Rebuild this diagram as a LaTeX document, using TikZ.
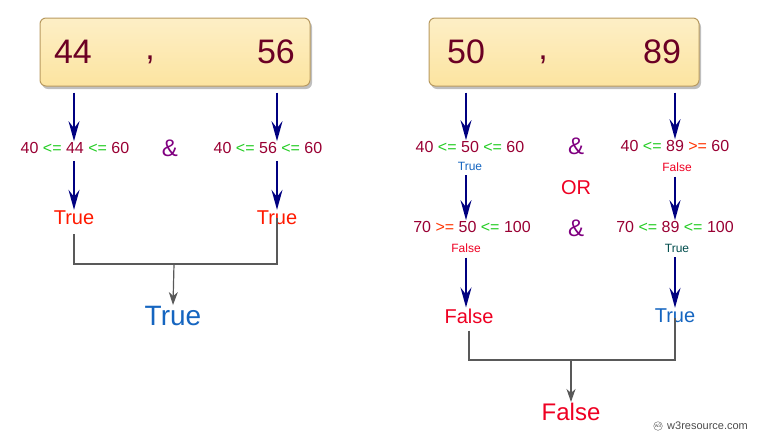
\documentclass[tikz,border=0pt]{standalone}
\usepackage{fontspec}
\setmainfont{Liberation Sans}
\usetikzlibrary{arrows.meta,shadows}
\definecolor{num}{HTML}{990033}
\definecolor{le}{HTML}{22CC22}
\definecolor{ge}{HTML}{FF3300}
\definecolor{navy}{HTML}{000080}
\definecolor{boxfill}{HTML}{FCE4A0}
\definecolor{boxline}{HTML}{B89A60}
\definecolor{tblue}{HTML}{1565C0}
\definecolor{fred}{HTML}{EE0022}
\newcommand{\LE}{\textcolor{le}{<=}}
\newcommand{\GE}{\textcolor{ge}{>=}}
\tikzset{
  arr/.style={navy, line width=1.8pt, arrows={-Stealth[length=20pt, width=11pt, inset=7pt]}},
  brk arr/.style={brk, arrows={-Stealth[length=13pt, width=9pt, inset=4pt]}}
}
\begin{document}
\begin{tikzpicture}[x=1pt,y=-1pt]
  \tikzstyle{pair box}=[draw=boxline, line width=1pt, rounded corners=6pt, top color=boxfill!60, bottom color=boxfill, minimum width=270pt, minimum height=68pt, drop shadow={opacity=0.5, shadow xshift=2pt, shadow yshift=-3pt}]
  \tikzstyle{big num}=[text=num!70!black, font=\fontsize{34}{36}\selectfont]
  \tikzstyle{cond}=[text=num, font=\fontsize{16}{18}\selectfont, inner sep=1pt]
  \tikzstyle{sub}=[font=\fontsize{12}{14}\selectfont, inner sep=1pt]
  \tikzstyle{res}=[font=\fontsize{20}{22}\selectfont, inner sep=1pt]
  \tikzstyle{op}=[text=violet, font=\fontsize{24}{26}\selectfont]
  \tikzstyle{brk}=[black!65, line width=1.2pt]
  \useasboundingbox (0,0) rectangle (762,445);

  % left example
  \node[pair box] (boxL) at (175,52) {};
  \node[big num] (n44) at (73,52) {44};
  \node[big num] at (150,60) {,};
  \node[big num] (n56) at (276,52) {56};
  \node[cond] (c44) at (75,148) {40 \LE{} 44 \LE{} 60};
  \node[cond] (c56) at (268,148) {40 \LE{} 56 \LE{} 60};
  \node[op] (andL) at (170,148) {\&};
  \node[res, text=orange!20!red] (tL1) at (74,218) {True};
  \node[res, text=orange!20!red] (tL2) at (277,218) {True};
  \node[res, text=tblue, font=\fontsize{28}{30}\selectfont] (outL) at (173,316) {True};
  \coordinate (jL) at (174,264);

  \draw[arr] (boxL.south -| tL1) ++(0,6) -- (c44.north -| tL1);
  \draw[arr] (boxL.south -| tL2) ++(0,6) -- (c56.north -| tL2);
  \draw[arr] (c44.south -| tL1) ++(0,6) -- (tL1.north);
  \draw[arr] (c56.south -| tL2) ++(0,6) -- (tL2.north);
  \draw[brk] (tL1.south) ++(0,8) |- (jL) -| ([yshift=8pt]tL2.south);
  \draw[brk arr] (jL) -- (outL.north);

  % right example
  \node[pair box] (boxR) at (564,52) {};
  \node[big num] (n50) at (466,52) {50};
  \node[big num] at (543,60) {,};
  \node[big num] (n89) at (662,52) {89};
  \node[cond] (c50a) at (470,147) {40 \LE{} 50 \LE{} 60};
  \node[sub, text=tblue] (s50a) at (470,166) {True};
  \node[cond] (c89a) at (675,146) {40 \LE{} 89 \GE{} 60};
  \node[sub, text=fred] (s89a) at (677,167) {False};
  \node[op] (andR1) at (576,146) {\&};
  \node[res, text=fred] (orR) at (576,188) {OR};
  \node[cond] (c50b) at (472,227) {70 \GE{} 50 \LE{} 100};
  \node[sub, text=fred] (s50b) at (466,248) {False};
  \node[cond] (c89b) at (675,227) {70 \LE{} 89 \LE{} 100};
  \node[sub, text=teal!60!black] (s89b) at (677,248) {True};
  \node[op] (andR2) at (576,228) {\&};
  \node[res, text=fred] (fR) at (469,316) {False};
  \node[res, text=tblue] (tR) at (675,316) {True};
  \node[res, text=fred, font=\fontsize{24}{26}\selectfont] (outR) at (571,412) {False};
  \coordinate (jR) at (571,360);

  \draw[arr] (boxR.south -| n50) ++(0,6) -- (c50a.north -| n50);
  \draw[arr] (boxR.south -| tR) ++(0,6) -- (c89a.north -| tR);
  \draw[arr] (s50a.south -| n50) ++(0,4) -- (c50b.north -| n50);
  \draw[arr] (s89a.south -| tR) ++(0,4) -- (c89b.north -| tR);
  \draw[arr] (s50b.south -| n50) ++(0,4) -- (fR.north -| n50);
  \draw[arr] (s89b.south -| tR) ++(0,4) -- (tR.north);
  \draw[brk] (fR.south) ++(0,6) |- (jR) -| ([yshift=6pt]tR.south);
  \draw[brk arr] (jR) -- (outR.north);

  % watermark
  \node[draw=black!60, circle, inner sep=0.5pt, text=black!70, font=\fontsize{5}{5}\selectfont] (logo) at (658,426) {w3};
  \node[text=black!70, font=\fontsize{11}{12}\selectfont, anchor=west, inner sep=1pt] (mark) at (666,426) {w3resource.com};
\end{tikzpicture}
\end{document}
